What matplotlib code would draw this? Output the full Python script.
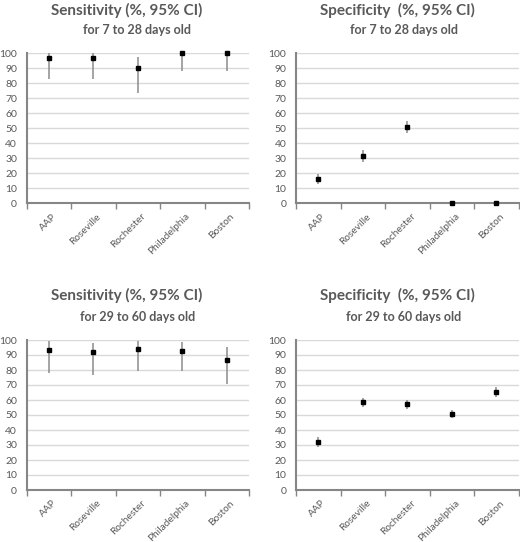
import matplotlib as mpl
mpl.use('Agg')
import matplotlib.pyplot as plt
import numpy as np

plt.rcParams['font.family'] = ['Lato', 'DejaVu Sans']

sites = ['AAP', 'Roseville', 'Rochester', 'Philadelphia', 'Boston']

# sensitivity, 7 to 28 days
sens_young = [96.7, 96.7, 90.0, 100.0, 100.0]
sens_young_lo = [82.7, 82.7, 73.3, 88.4, 88.4]
sens_young_hi = [100.0, 100.0, 97.8, 100.0, 100.0]

# specificity, 7 to 28 days
spec_young = [16.0, 31.8, 50.9, 0.0, 0.0]
spec_young_lo = [12.7, 27.8, 46.7, 0.0, 0.0]
spec_young_hi = [19.6, 35.6, 54.9, 0.6, 0.6]

# sensitivity, 29 to 60 days
sens_old = [93.6, 91.8, 94.0, 92.4, 86.4]
sens_old_lo = [77.8, 76.9, 79.3, 79.1, 70.4]
sens_old_hi = [99.3, 98.2, 99.3, 98.4, 95.3]

# specificity, 29 to 60 days
spec_old = [32.2, 58.9, 57.3, 50.9, 65.6]
spec_old_lo = [28.9, 55.6, 54.2, 47.8, 62.2]
spec_old_hi = [35.3, 61.6, 60.2, 53.6, 68.4]

grey = '#595959'
W, H = 520, 542

fig = plt.figure(figsize=(W/100, H/100), dpi=100)

def panel(x0, x1, ytop, ybot, pts, lo, hi):
  ax = fig.add_axes([x0/W, 1-ybot/H, (x1-x0)/W, (ybot-ytop)/H])
  x = np.arange(1, len(sites)+1)
  pts = np.array(pts); lo = np.array(lo); hi = np.array(hi)
  ax.errorbar(x, pts, yerr=[pts-lo, hi-pts], fmt='none', ecolor='#8c8c8c',
              elinewidth=1.1, capsize=0, zorder=3)
  ax.plot(x, pts, 's', color='black', ms=2.7, zorder=4, clip_on=False)
  ax.set_xlim(0.5, len(sites)+0.5)
  ax.set_ylim(0, 100)
  ax.set_yticks(range(0, 101, 10))
  ax.grid(axis='y', color='#d9d9d9', lw=1)
  ax.set_axisbelow(True)
  for s in ['top', 'right']:
    ax.spines[s].set_visible(False)
  for s in ['left', 'bottom']:
    ax.spines[s].set_color('#868686')
    ax.spines[s].set_linewidth(1.5)
  ax.set_xticks(np.arange(0.5, len(sites)+1, 1))
  ax.set_xticklabels([])
  ax.set_xticks(x + 0.07, minor=True)
  ax.set_xticklabels(sites, minor=True, rotation=45, ha='right',
                     rotation_mode='anchor', fontsize=7.3, color=grey)
  ax.tick_params(axis='x', which='major', length=4, color='#868686', width=1)
  ax.tick_params(axis='x', which='minor', length=0, pad=6)
  ax.tick_params(axis='y', length=0, labelsize=7.5, labelcolor=grey, pad=7)
  return ax

panel(26.7, 249, 53.3, 203.3, sens_young, sens_young_lo, sens_young_hi)
panel(296, 518.7, 53.3, 203.3, spec_young, spec_young_lo, spec_young_hi)
panel(26.7, 249, 340, 490, sens_old, sens_old_lo, sens_old_hi)
panel(296, 518.7, 340, 490, spec_old, spec_old_lo, spec_old_hi)

def titles(cx, cy, title, cx2, cy2, sub):
  fig.text(cx/W, 1-cy/H, title, ha='center', va='center', fontsize=11,
           fontweight='bold', color=grey)
  fig.text(cx2/W, 1-cy2/H, sub, ha='center', va='center', fontsize=9,
           fontweight='bold', color=grey)

titles(127, 10, 'Sensitivity (%, 95% CI)', 137, 30, 'for 7 to 28 days old')
titles(397, 10, 'Specificity  (%, 95% CI)', 404, 30, 'for 7 to 28 days old')
titles(127, 295, 'Sensitivity (%, 95% CI)', 138, 317, 'for 29 to 60 days old')
titles(397, 295, 'Specificity  (%, 95% CI)', 404, 317, 'for 29 to 60 days old')

fig.savefig('out.png', dpi=100)
